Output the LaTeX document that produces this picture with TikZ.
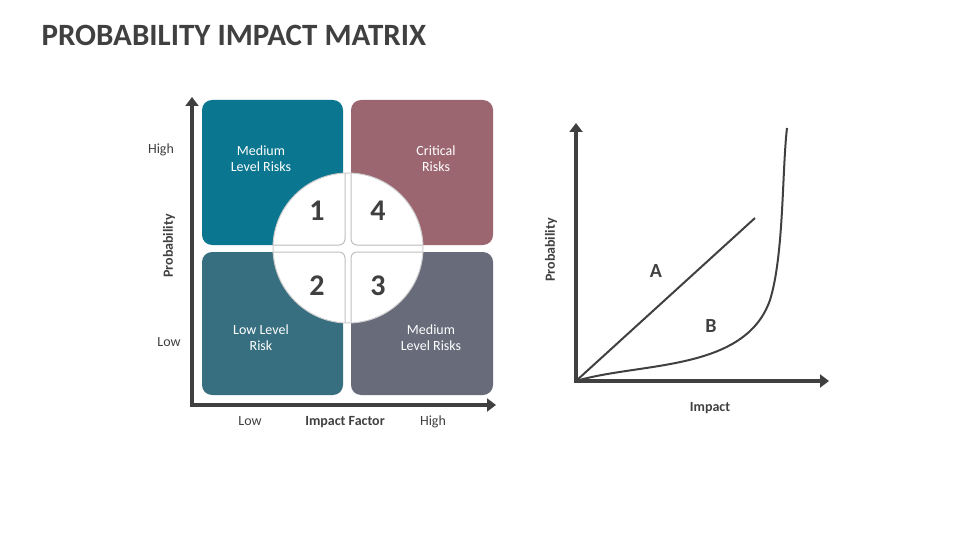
\documentclass[tikz,border=0pt]{standalone}
\usepackage{fontspec}
\setmainfont{Carlito}
\usetikzlibrary{arrows.meta}
\definecolor{axc}{HTML}{404040}
\definecolor{ctl}{HTML}{0B7690}
\definecolor{ctr}{HTML}{9C6670}
\definecolor{cbl}{HTML}{386F80}
\definecolor{cbr}{HTML}{686B7A}
\begin{document}
\begin{tikzpicture}[x=1pt,y=-1pt,
  box/.style={rounded corners=10pt},
  btxt/.style={text=white,font=\fontsize{14}{16}\selectfont,align=center},
  num/.style={text=axc,font=\bfseries\fontsize{30}{30}\selectfont},
  lab/.style={text=axc,font=\fontsize{14}{16}\selectfont},
  blab/.style={text=axc,font=\bfseries\fontsize{14}{16}\selectfont},
  axis/.style={draw=axc,line width=4.5pt,-{Triangle[length=9pt,width=13pt]}},
  curve/.style={draw=axc,line width=2pt}]
\useasboundingbox (0,0) rectangle (960,540);
\node[anchor=west,text=axc,font=\bfseries\fontsize{31}{31}\selectfont] (title) at (38,35) {PROBABILITY IMPACT MATRIX};
% boxes
\fill[ctl,box] (202,100) rectangle (343,245);
\fill[ctr,box] (351,100) rectangle (493,245);
\fill[cbl,box] (202,252) rectangle (343,395);
\fill[cbr,box] (351,252) rectangle (493,395);
\begin{scope}
\clip (348,248) circle (75);
\fill[white,draw=gray!50,line width=1pt,rounded corners=6pt] (260,160) rectangle (345,245);
\fill[white,draw=gray!50,line width=1pt,rounded corners=6pt] (351,160) rectangle (440,245);
\fill[white,draw=gray!50,line width=1pt,rounded corners=6pt] (260,252) rectangle (345,340);
\fill[white,draw=gray!50,line width=1pt,rounded corners=6pt] (351,252) rectangle (440,340);
\end{scope}
\draw[gray!40,line width=1pt] (348,248) circle (75);
\node[num] (n1) at (317,211) {1};
\node[num] (n4) at (378,211) {4};
\node[num] (n2) at (317,286) {2};
\node[num] (n3) at (378,286) {3};
\node[btxt] (t1) at (261,159) {Medium\\Level Risks};
\node[btxt] (t4) at (436,159) {Critical\\Risks};
\node[btxt] (t2) at (261,338) {Low Level\\Risk};
\node[btxt] (t3) at (431,338) {Medium\\Level Risks};
% left axes
\coordinate (o1) at (192,405);
\coordinate (y1) at (192,97);
\coordinate (x1) at (496,405);
\draw[axis] (192,407) -- (y1);
\draw[axis] (190,405) -- (x1);
\node[lab] (hi) at (161,150) {High};
\node[lab] (lo) at (169,342) {Low};
\node[lab] (xl) at (250,421) {Low};
\node[lab] (xh) at (433,422) {High};
\node[blab] (xi) at (345,422) {Impact Factor};
\node[blab,rotate=90] (yp) at (169,246) {Probability};
% right chart
\coordinate (o2) at (576,381);
\coordinate (y2) at (576,123);
\coordinate (x2) at (829,381);
\draw[axis] (576,383) -- (y2);
\draw[axis] (574,381) -- (x2);
\coordinate (ae) at (755,218);
\draw[curve] (o2) -- (ae);
\coordinate (be) at (787,128);
\draw[curve] (o2) .. controls (640,362) and (745,372) .. (770,300) .. controls (784,255) and (782,170) .. (be);
\node[blab,font=\bfseries\fontsize{20}{20}\selectfont] (la) at (656,271) {A};
\node[blab,font=\bfseries\fontsize{20}{20}\selectfont] (lb) at (711,326) {B};
\node[blab] (ri) at (710,408) {Impact};
\node[blab,rotate=90] (rp) at (551,250) {Probability};
\end{tikzpicture}
\end{document}
